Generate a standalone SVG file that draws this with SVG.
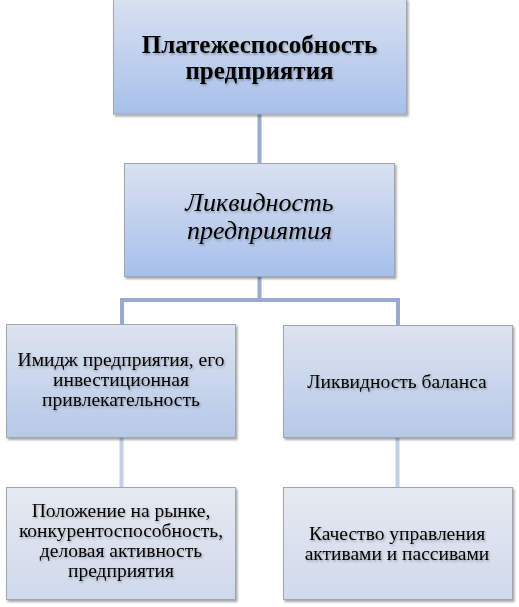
<svg xmlns="http://www.w3.org/2000/svg" width="519" height="607" viewBox="0 0 519 607">
<defs>
<linearGradient id="gTop" x1="0" y1="0" x2="0" y2="1">
<stop offset="0" stop-color="#d9e1f0"/><stop offset="1" stop-color="#a7c0ea"/>
</linearGradient>
<linearGradient id="gMid" x1="0" y1="0" x2="0" y2="1">
<stop offset="0" stop-color="#dde3ef"/><stop offset="1" stop-color="#b6c9e8"/>
</linearGradient>
<linearGradient id="gLow" x1="0" y1="0" x2="0" y2="1">
<stop offset="0" stop-color="#e6e9f0"/><stop offset="1" stop-color="#cfd9ec"/>
</linearGradient>
<filter id="sh" x="-5%" y="-5%" width="112%" height="115%">
<feDropShadow dx="1.5" dy="2" stdDeviation="1.2" flood-color="#000" flood-opacity="0.35"/>
</filter>
<filter id="tsh" x="-5%" y="-20%" width="110%" height="150%">
<feDropShadow dx="1" dy="1.5" stdDeviation="1" flood-color="#000" flood-opacity="0.3"/>
</filter>
</defs>
<style>
.box{stroke:#a0a6b0;stroke-width:1;filter:url(#sh)}
text{font-family:'Liberation Serif','Times New Roman',serif;fill:#000;text-anchor:middle;filter:url(#tsh)}
.s{font-size:19.5px}
.c1{fill:none;stroke:#97acd0;stroke-width:4}
.c2{fill:none;stroke:#c3cfe3;stroke-width:4}
</style>
<g id="connectors">
<path class="c1" d="M259.5 114 V163"/>
<path class="c1" d="M259.5 277 V300 M122 324 V300 H398 V325"/>
<path class="c2" d="M121.5 438 V487"/>
<path class="c2" d="M397.5 438 V487"/>
</g>
<g id="n1">
<rect class="box" x="113.5" y="-1" width="293" height="115" fill="url(#gTop)"/>
<text font-size="25" font-weight="bold"><tspan x="259.5" y="53">Платежеспособность</tspan><tspan x="259.5" y="79">предприятия</tspan></text>
</g>
<g id="n2">
<rect class="box" x="124.5" y="163.5" width="270" height="113" fill="url(#gTop)"/>
<text font-size="26" font-style="italic"><tspan x="259.5" y="211">Ликвидность</tspan><tspan x="259.5" y="239">предприятия</tspan></text>
</g>
<g id="n3">
<rect class="box" x="6.5" y="324.5" width="229" height="113" fill="url(#gMid)"/>
<text class="s"><tspan x="121" y="366">Имидж предприятия, его</tspan><tspan x="121" y="386">инвестиционная</tspan><tspan x="121" y="406">привлекательность</tspan></text>
</g>
<g id="n4">
<rect class="box" x="283.5" y="325.5" width="229" height="112" fill="url(#gMid)"/>
<text class="s"><tspan x="397" y="388">Ликвидность баланса</tspan></text>
</g>
<g id="n5">
<rect class="box" x="6.5" y="487.5" width="229" height="112" fill="url(#gLow)"/>
<text class="s"><tspan x="121" y="517">Положение на рынке,</tspan><tspan x="121" y="537">конкурентоспособность,</tspan><tspan x="121" y="557">деловая активность</tspan><tspan x="121" y="577">предприятия</tspan></text>
</g>
<g id="n6">
<rect class="box" x="283.5" y="487.5" width="229" height="112" fill="url(#gLow)"/>
<text class="s"><tspan x="397" y="540">Качество управления</tspan><tspan x="397" y="560">активами и пассивами</tspan></text>
</g>
</svg>
